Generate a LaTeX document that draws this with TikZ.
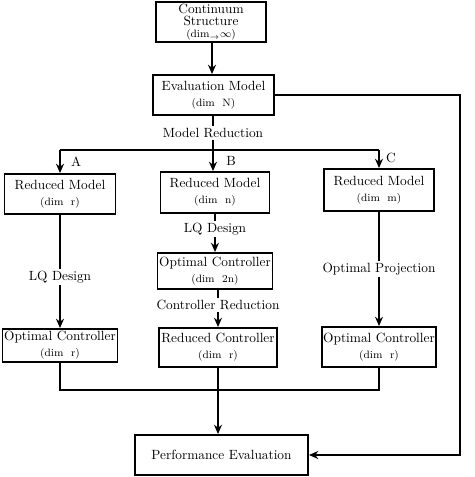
\documentclass[tikz,border=0pt]{standalone}
\usetikzlibrary{arrows.meta}
\begin{document}
\begin{tikzpicture}[x=0.75pt,y=-0.75pt,
  box/.style={draw,line width=1.4pt,align=center,inner sep=1pt,font=\normalsize},
  arr/.style={line width=1.35pt,-{Stealth[length=7pt,width=6pt]}},
  ln/.style={line width=1.35pt},
  lbl/.style={font=\normalsize,fill=white,inner sep=1.5pt},
  tag/.style={font=\normalsize,inner sep=0pt}]
\useasboundingbox (0,0) rectangle (474,477);
\newcommand{\dimtxt}[1]{{\footnotesize (dim\ \ #1)}}
% boxes
\node[box,minimum width=82.5pt,minimum height=30pt] (cont) at (211,22)
  {Continuum\\[-2.5pt]Structure\\[-3pt]{\footnotesize (dim$_{\rightarrow}\infty$)}};
\node[box,minimum width=90.75pt,minimum height=30pt] (eval) at (213.5,95) {Evaluation Model\\\dimtxt{N}};
\node[box,minimum width=83.25pt,minimum height=30pt] (rA) at (60,194) {Reduced Model\\\dimtxt{r}};
\node[box,minimum width=81.75pt,minimum height=30.75pt] (rB) at (215,192.5) {Reduced Model\\\dimtxt{n}};
\node[box,minimum width=82.5pt,minimum height=31.5pt] (rC) at (379,190) {Reduced Model\\\dimtxt{m}};
\node[box,minimum width=86.25pt,minimum height=27pt] (oB) at (215,271) {Optimal Controller\\\dimtxt{2n}};
\node[box,minimum width=88.5pt,minimum height=29.25pt] (rcB) at (218,347.5) {Reduced Controller\\\dimtxt{r}};
\node[box,minimum width=86.25pt,minimum height=24.75pt] (oA) at (60,345.5) {Optimal Controller\\\dimtxt{r}};
\node[box,minimum width=81pt,minimum height=30pt] (oC) at (379,347) {Optimal Controller\\\dimtxt{r}};
\node[box,minimum width=129.75pt,minimum height=30pt] (perf) at (221.5,455) {Performance Evaluation};
% helper coordinates
\coordinate (cx) at (212,0);
\coordinate (br) at (213,150);
\coordinate (rt) at (460,95);
\coordinate (bt) at (218,390);
% connectors
\draw[arr] (cont.south -| cx) -- (eval.north -| cx);
\draw[arr] (eval.east) -- (eval.east -| rt) -- (perf.east -| rt) -- (perf.east);
\draw[ln] (eval.south -| br) -- node[lbl,pos=0.5]{Model Reduction} (br);
\draw[ln] (rA.north |- br) -- (rC.north |- br);
\draw[arr] (rA.north |- br) -- (rA.north);
\draw[arr] (br) -- (br |- rB.north);
\draw[arr] (rC.north |- br) -- (rC.north);
\node[tag] (tA) at (76,162) {A};
\node[tag] (tB) at (231,161) {B};
\node[tag] (tC) at (391,158) {C};
\draw[arr] (rA.south) -- node[lbl,pos=0.55]{LQ Design} (oA.north);
\draw[arr] (rB.south -| oB.north) -- node[lbl,pos=0.4]{LQ Design} (oB.north);
\draw[arr] (oB.south -| rcB.north) -- node[lbl,pos=0.4]{Controller Reduction} (rcB.north);
\draw[arr] (rC.south) -- node[lbl,pos=0.5]{Optimal Projection} (oC.north);
\draw[ln] (oA.south) -- (oA.south |- bt) -- (oC.south |- bt) -- (oC.south);
\draw[arr] (rcB.south) -- (rcB.south |- perf.north);
\end{tikzpicture}
\end{document}
